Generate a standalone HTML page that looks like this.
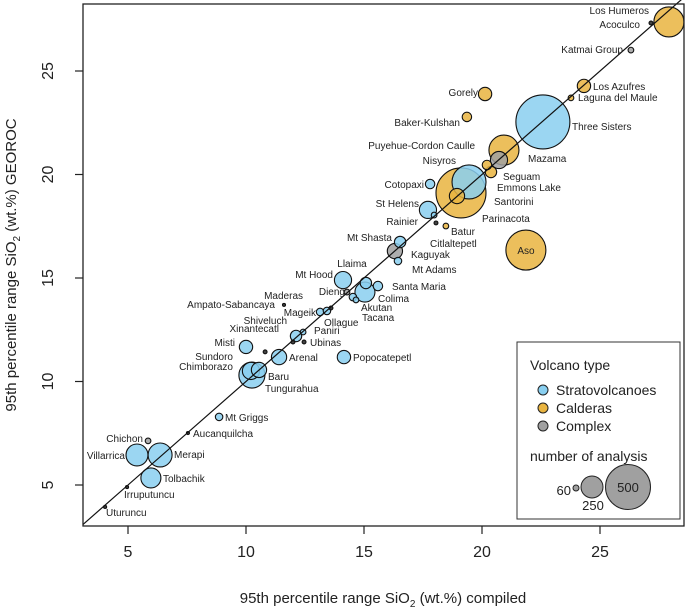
<!DOCTYPE html>
<html><head><meta charset="utf-8"><style>
html,body{margin:0;padding:0;background:#fff;}
svg{display:block;font-family:"Liberation Sans",sans-serif;}
</style></head><body>
<svg id="chart" width="685" height="610" viewBox="0 0 685 610" xmlns="http://www.w3.org/2000/svg">
<g id="marks"></g>
<g id="frame"></g>
<g id="labels" font-size="10" fill="#222"></g>
<g>
<rect x="517" y="342" width="163" height="177" fill="#fff" stroke="#333" stroke-width="1"/>
<text x="530" y="370" font-size="14" fill="#222">Volcano type</text>
<circle cx="543" cy="390" r="5" fill="#89cff0" stroke="#222"/><text x="556" y="395" font-size="14" fill="#222">Stratovolcanoes</text>
<circle cx="543" cy="408" r="5" fill="#e9b440" stroke="#222"/><text x="556" y="413" font-size="14" fill="#222">Calderas</text>
<circle cx="543" cy="426" r="5" fill="#a0a0a0" stroke="#222"/><text x="556" y="431" font-size="14" fill="#222">Complex</text>
<text x="530" y="461" font-size="14" fill="#222">number of analysis</text>
<circle cx="576" cy="488" r="3" fill="#a0a0a0" stroke="#222"/>
<circle cx="592" cy="487" r="11" fill="#a0a0a0" stroke="#222"/>
<circle cx="628" cy="487" r="22.5" fill="#a0a0a0" stroke="#222"/>
<text x="571" y="495" font-size="13" text-anchor="end" fill="#222">60</text>
<text x="593" y="510" font-size="13" text-anchor="middle" fill="#222">250</text>
<text x="628" y="492" font-size="13" text-anchor="middle" fill="#222">500</text>
</g>
</svg>
<script>
const names=["Los Humeros","Acoculco","Katmai Group","Los Azufres","Laguna del Maule","Gorely","Baker-Kulshan","Three Sisters","Mazama","Puyehue-Cordon Caulle","Nisyros","Seguam","Emmons Lake","Santorini","Parinacota","Cotopaxi","St Helens","Rainier","Citlaltepetl","Batur","Mt Shasta","Kaguyak","Mt Adams","Aso","Mt Hood","Llaima","Santa Maria","Colima","Dieng","Akutan","Tacana","Maderas","Ampato-Sabancaya","Mageik","Ollague","Paniri","Shiveluch","Xinantecatl","Ubinas","Misti","Sundoro","Arenal","Popocatepetl","Chimborazo","Baru","Tungurahua","Mt Griggs","Aucanquilcha","Chichon","Villarrica","Merapi","Tolbachik","Irruputuncu","Uturuncu"];
const compiled=[27.92,27.16,26.31,24.32,23.77,20.13,19.36,22.58,20.93,20.72,20.21,20.38,19.45,19.11,18.94,17.80,17.71,17.97,18.05,18.47,16.53,16.31,16.44,21.86,14.11,15.08,15.59,15.04,14.28,14.53,14.66,13.60,11.61,13.14,13.43,12.42,12.12,11.99,12.46,10.0,10.81,11.40,14.15,10.21,10.55,10.25,8.86,7.54,5.85,5.38,6.36,5.97,4.96,4.03];
const georoc=[27.37,27.32,26.01,24.28,23.70,23.89,22.78,22.54,21.18,20.70,20.46,20.12,19.64,19.11,18.96,19.54,18.29,18.04,17.66,17.51,16.74,16.30,15.82,16.35,14.90,14.76,14.61,14.32,14.32,14.08,13.94,13.55,13.70,13.36,13.41,12.39,12.20,11.91,11.91,11.67,11.43,11.18,11.18,10.51,10.56,10.31,8.29,7.51,7.13,6.45,6.45,5.34,4.90,3.94];
const nAnalyses=[263,38,47,96,47,96,69,647,263,127,69,82,315,571,111,69,127,47,38,47,82,111,57,402,127,82,69,153,47,57,47,38,34,57,57,47,82,38,38,96,38,111,96,127,111,215,57,34,47,172,193,153,34,34];
const types=["C","C","X","C","C","C","C","S","C","X","C","C","S","C","C","S","S","S","S","C","S","X","S","C","S","S","S","S","X","S","S","S","S","S","S","S","S","S","S","S","S","S","S","S","S","S","S","S","X","S","S","S","S","S"];
const xTicks=[5,10,15,20,25];
const yTicks=[5,10,15,20,25];
const NS="http://www.w3.org/2000/svg";
const L=83,R=684,T=4,B=526;
const xs=v=>128+(v-5)*23.6;
const ys=v=>485-(v-5)*20.7;
const rad=n=>Math.max(1.5,1.3*(Math.sqrt(n)-4.67));
const col={S:"#89cff0",C:"#e9b440",X:"#a0a0a0"};
function mk(tag,attrs,parent){const e=document.createElementNS(NS,tag);for(const k in attrs)e.setAttribute(k,attrs[k]);parent.appendChild(e);return e;}
const marks=document.getElementById('marks');
const order=names.map((_,i)=>i).sort((a,b)=>nAnalyses[b]-nAnalyses[a]);
order.forEach(i=>{
 const r=rad(nAnalyses[i]);
 const c=mk('circle',{cx:xs(compiled[i]),cy:ys(georoc[i]),r:r,fill:r<2?"#222":col[types[i]],'fill-opacity':0.85,stroke:"#111",'stroke-width':1.1},marks);
 
 
});
const fr=document.getElementById('frame');
// 1:1 line
const lo=3.09,hi=28.6;
const d=mk('line',{x1:xs(lo),y1:ys(lo),x2:xs(hi),y2:ys(hi),stroke:"#111",'stroke-width':1.2},fr);


const box=mk('rect',{x:L,y:T,width:R-L,height:B-T,fill:"none",stroke:"#222",'stroke-width':1.3},fr);


xTicks.forEach(v=>{
 mk('line',{x1:xs(v),x2:xs(v),y1:B,y2:B+8,stroke:"#222",'stroke-width':1.2},fr);
 const t=mk('text',{x:xs(v),y:B+31,'font-size':16,'text-anchor':'middle',fill:"#222"},fr);t.textContent=v;
 
 
});
yTicks.forEach(v=>{
 mk('line',{x1:L-8,x2:L,y1:ys(v),y2:ys(v),stroke:"#222",'stroke-width':1.2},fr);
 const t=mk('text',{x:0,y:0,'font-size':16,'text-anchor':'middle',fill:"#222",transform:`translate(53,${ys(v)}) rotate(-90)`},fr);t.textContent=v;
 
 
});
const xt=mk('text',{x:383,y:603,'font-size':15,'text-anchor':'middle',fill:"#222"},fr);
xt.innerHTML='95th percentile range SiO<tspan font-size="10" dy="4">2</tspan><tspan dy="-4"> (wt.%) compiled</tspan>';


const yt=mk('text',{x:0,y:0,'font-size':15,'text-anchor':'middle',fill:"#222",transform:'translate(16,265) rotate(-90)'},fr);
yt.innerHTML='95th percentile range SiO<tspan font-size="10" dy="4">2</tspan><tspan dy="-4"> (wt.%) GEOROC</tspan>';


// labels: [text, x, y, anchor]
const lab=[["Los Humeros",649,14,"end"],["Acoculco",640,28,"end"],["Katmai Group",623,53,"end"],["Los Azufres",593,90,"start"],["Laguna del Maule",578,101,"start"],["Gorely",478,96,"end"],["Baker-Kulshan",460,126,"end"],["Three Sisters",572,130,"start"],["Puyehue-Cordon Caulle",475,149,"end"],["Nisyros",456,164,"end"],["Mazama",528,162,"start"],["Seguam",503,180,"start"],["Emmons Lake",497,191,"start"],["Santorini",494,205,"start"],["Parinacota",482,222,"start"],["Cotopaxi",424,188,"end"],["St Helens",419,207,"end"],["Rainier",418,225,"end"],["Batur",451,235,"start"],["Citlaltepetl",430,247,"start"],["Mt Shasta",392,241,"end"],["Kaguyak",411,258,"start"],["Mt Adams",412,273,"start"],["Aso",526,254,"middle"],["Llaima",352,267,"middle"],["Mt Hood",333,278,"end"],["Santa Maria",392,290,"start"],["Dieng",345,295,"end"],["Maderas",303,299,"end"],["Colima",378,302,"start"],["Akutan",361,311,"start"],["Ampato-Sabancaya",275,308,"end"],["Mageik",316,316,"end"],["Tacana",362,321,"start"],["Ollague",324,326,"start"],["Shiveluch",287,324,"end"],["Paniri",314,334,"start"],["Xinantecatl",279,332,"end"],["Ubinas",310,346,"start"],["Misti",235,346,"end"],["Arenal",289,361,"start"],["Popocatepetl",353,361,"start"],["Sundoro",233,360,"end"],["Chimborazo",233,370,"end"],["Baru",268,380,"start"],["Tungurahua",265,392,"start"],["Mt Griggs",225,421,"start"],["Aucanquilcha",193,437,"start"],["Chichon",143,442,"end"],["Villarrica",125,459,"end"],["Merapi",174,458,"start"],["Tolbachik",163,482,"start"],["Irruputuncu",124,498,"start"],["Uturuncu",106,516,"start"]];
const lg=document.getElementById('labels');
lab.forEach(a=>{const t=mk('text',{x:a[1],y:a[2],'text-anchor':a[3]},lg);t.textContent=a[0];
 
 });
</script>
</body></html>
